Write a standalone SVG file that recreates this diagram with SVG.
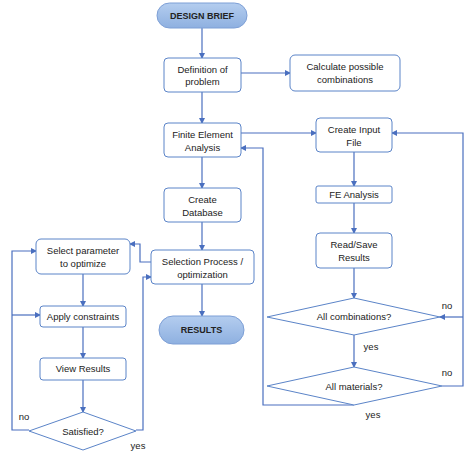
<svg xmlns="http://www.w3.org/2000/svg" width="474" height="453" viewBox="0 0 474 453">
<defs>
<linearGradient id="pill" x1="0" y1="0" x2="0" y2="1">
<stop offset="0" stop-color="#b4cdef"/>
<stop offset="1" stop-color="#8eb0e0"/>
</linearGradient>
<marker id="ah" markerWidth="6" markerHeight="6" refX="5" refY="3" orient="auto" markerUnits="userSpaceOnUse">
<path d="M0,0 L6,3 L0,6 Z" fill="#4a6fbf"/>
</marker>
<style>
.box{fill:#fff;stroke:#5b84c8;stroke-width:1}
.pill{fill:url(#pill);stroke:#7d9fd6;stroke-width:1}
.dia{fill:#fff;stroke:#5b84c8;stroke-width:1}
.t{font-family:"Liberation Sans",Arial,sans-serif;font-size:9.5px;fill:#222;text-anchor:middle}
.b{font-weight:bold;font-size:9px}
.c{fill:none;stroke:#4a6fbf;stroke-width:1.2}
.ca{fill:none;stroke:#4a6fbf;stroke-width:1.2;marker-end:url(#ah)}
</style>
</defs>
<rect width="474" height="453" fill="#fff"/>
<g id="connectors">
<path class="ca" d="M202,28 V58"/>
<path class="ca" d="M241,73 H290"/>
<path class="ca" d="M202,92 V123"/>
<path class="ca" d="M241,133 H316"/>
<path class="ca" d="M202,157 V188"/>
<path class="ca" d="M202,222 V250"/>
<path class="ca" d="M202,284 V316"/>
<path class="ca" d="M354,152 V186"/>
<path class="ca" d="M354,203 V233"/>
<path class="ca" d="M354,268 V298"/>
<path class="ca" d="M354,335 V367"/>
<path class="ca" d="M354,405 H263 V148 H241"/>
<path class="ca" d="M442,386 H463 V133 H392"/>
<path class="ca" d="M463,317 H440"/>
<path class="ca" d="M151,262 H140 V244 H130"/>
<path class="ca" d="M83,274 V306"/>
<path class="ca" d="M83,327 V358"/>
<path class="ca" d="M83,380 V412"/>
<path class="ca" d="M29,430 H12 V251 H36"/>
<path class="ca" d="M12,315 H40"/>
<path class="ca" d="M136,430 H143 V277 H151"/>
</g>
<g id="design-brief">
<rect class="pill" x="157" y="3" width="90" height="25" rx="12.5"/>
<text class="t b" x="202" y="19">DESIGN BRIEF</text>
</g>
<g id="definition">
<rect class="box" x="164" y="58" width="77" height="34" rx="4"/>
<text class="t" x="202.5" y="73">Definition of</text>
<text class="t" x="202.5" y="85">problem</text>
</g>
<g id="calculate">
<rect class="box" x="290" y="55" width="110" height="36" rx="5"/>
<text class="t" x="345" y="70">Calculate possible</text>
<text class="t" x="345" y="83">combinations</text>
</g>
<g id="fea">
<rect class="box" x="164" y="123" width="77" height="34" rx="4"/>
<text class="t" x="202.5" y="138">Finite Element</text>
<text class="t" x="202.5" y="151">Analysis</text>
</g>
<g id="create-input">
<rect class="box" x="316" y="118" width="76" height="34" rx="4"/>
<text class="t" x="354" y="133">Create Input</text>
<text class="t" x="354" y="146">File</text>
</g>
<g id="create-database">
<rect class="box" x="164" y="188" width="77" height="34" rx="4"/>
<text class="t" x="202.5" y="203">Create</text>
<text class="t" x="202.5" y="216">Database</text>
</g>
<g id="fe-analysis">
<rect class="box" x="316" y="186" width="76" height="17" rx="2"/>
<text class="t" x="354" y="198">FE Analysis</text>
</g>
<g id="read-save">
<rect class="box" x="316" y="233" width="76" height="35" rx="4"/>
<text class="t" x="354" y="248">Read/Save</text>
<text class="t" x="354" y="261">Results</text>
</g>
<g id="selection">
<rect class="box" x="151" y="250" width="103" height="34" rx="4"/>
<text class="t" x="202.5" y="265">Selection Process /</text>
<text class="t" x="202.5" y="278">optimization</text>
</g>
<g id="results">
<rect class="pill" x="159" y="316" width="85" height="28" rx="14"/>
<text class="t b" x="201.5" y="333">RESULTS</text>
</g>
<g id="select-param">
<rect class="box" x="36" y="239" width="94" height="35" rx="5"/>
<text class="t" x="83" y="254">Select parameter</text>
<text class="t" x="83" y="267">to optimize</text>
</g>
<g id="apply">
<rect class="box" x="40" y="306" width="86" height="21" rx="3"/>
<text class="t" x="83" y="320">Apply constraints</text>
</g>
<g id="view">
<rect class="box" x="40" y="358" width="86" height="22" rx="3"/>
<text class="t" x="83" y="372">View Results</text>
</g>
<g id="satisfied">
<polygon class="dia" points="83,412 136,431 83,450 29,431"/>
<text class="t" x="83" y="435">Satisfied?</text>
<text class="t" x="24" y="420">no</text>
<text class="t" x="138" y="449">yes</text>
</g>
<g id="all-combinations">
<polygon class="dia" points="354,298 440,317 354,335 267,317"/>
<text class="t" x="354" y="320">All combinations?</text>
<text class="t" x="447" y="309">no</text>
<text class="t" x="371" y="350">yes</text>
</g>
<g id="all-materials">
<polygon class="dia" points="354,367 442,386 354,405 267,386"/>
<text class="t" x="354" y="390">All materials?</text>
<text class="t" x="447" y="376">no</text>
<text class="t" x="373" y="418">yes</text>
</g>
</svg>
